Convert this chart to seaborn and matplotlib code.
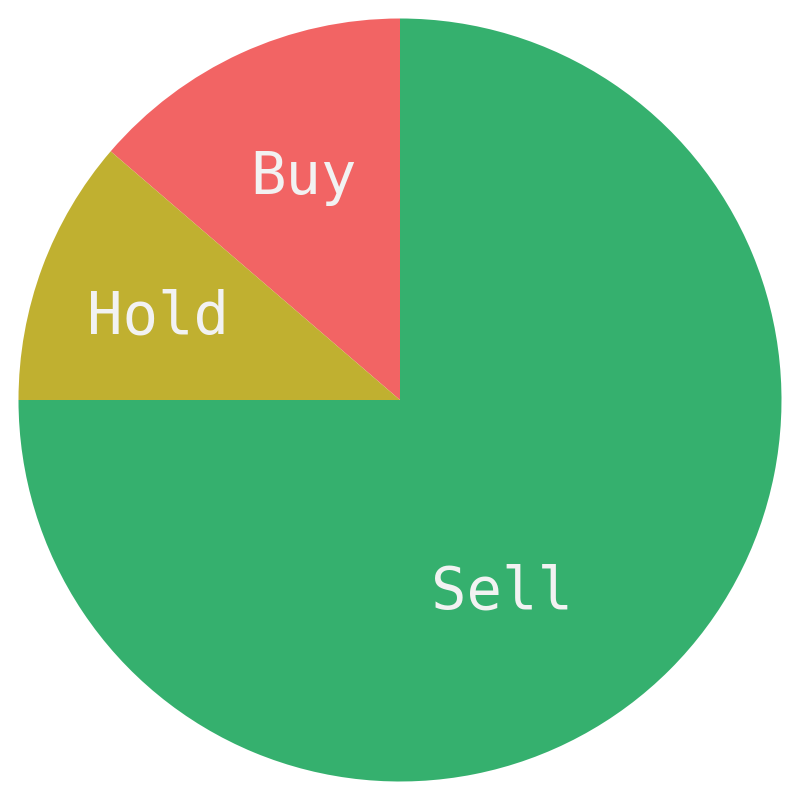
import matplotlib
matplotlib.use("Agg")
import matplotlib.pyplot as plt
import seaborn as sns
import numpy as np

# Data
categories = ["Sell", "Buy", "Hold"]
shares = [75.0, 13.7, 11.3]
colors = ["#35B06E", "#F26464", "#C0B030"]

# label placement (style): radial distance and angular offset per label
label_dist = [0.57, 0.635, 0.67]
label_angle_shift = [-17.0, -1.2, 1.4]

sns.set_theme(style="white")
plt.rcParams['font.family'] = ['DejaVu Sans Mono', 'DejaVu Sans']

fig = plt.figure(figsize=(8, 8), dpi=100)
ax = fig.add_axes([0, 0, 1, 1])
wedges, _ = ax.pie(shares, colors=colors, startangle=180, counterclock=True,
                   radius=1.0, wedgeprops=dict(linewidth=0))

for w, lab, d, s in zip(wedges, categories, label_dist, label_angle_shift):
    mid = np.deg2rad((w.theta1 + w.theta2) / 2 + s)
    ax.text(d * np.cos(mid), d * np.sin(mid), lab, ha="center", va="center",
            fontsize=42.5, color="#F2F2F2", family="DejaVu Sans Mono")

lim = 400 / 381.5
ax.set_xlim(-lim, lim)
ax.set_ylim(-lim, lim)
ax.set_aspect("equal")
ax.axis("off")
fig.savefig("out.png", dpi=100)
